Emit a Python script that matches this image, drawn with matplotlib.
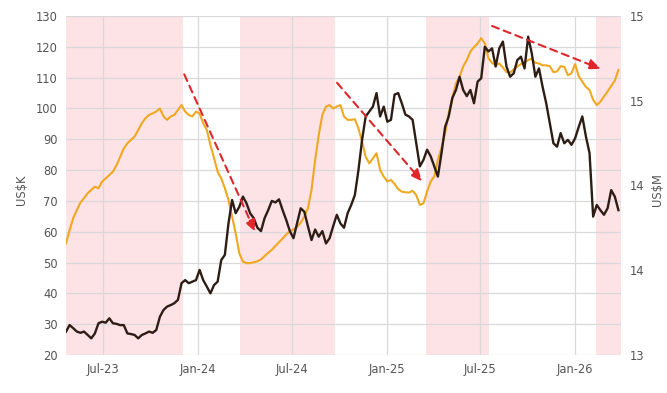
import matplotlib
matplotlib.use("Agg")
import matplotlib.pyplot as plt
import matplotlib.dates as mdates
import pandas as pd

# ---------------- data (weekly readings) ----------------
start_date = "2023-04-20"
brown_vals = [
    27.6, 29.7, 28.7, 27.6, 27.2, 27.6, 26.5, 25.4, 27.0, 30.3, 30.8, 30.5, 31.9, 30.3, 30.1, 29.7,
    29.7, 27.0, 26.8, 26.5, 25.4, 26.5, 27.0, 27.6, 27.2, 28.1, 32.4, 34.6, 35.7, 36.2, 36.8, 37.9,
    43.3, 44.3, 43.3, 43.8, 44.3, 47.6, 44.3,
    42.2, 40.0, 42.7, 43.8, 50.8, 52.5, 62.7, 70.3, 66.0, 68.1, 71.4, 69.2, 66.0, 64.4, 61.3, 60.2,
    64.4, 67.0, 70.0, 69.5, 70.5, 67.0, 63.8, 60.2, 57.9, 62.7, 67.6, 66.5, 61.8, 57.3, 60.7, 58.4,
    60.2, 56.2, 57.9, 61.8, 65.5, 62.7, 61.3,
    66.0, 68.7, 71.9, 80.0, 89.8, 97.4, 99.0, 100.6, 105.0, 97.4, 100.6, 95.7, 96.3, 104.5, 105.0,
    101.7, 98.0, 97.4, 96.3, 88.7, 81.2, 83.3, 86.6, 84.5, 81.2, 77.9, 85.5, 94.0, 97.4, 103.4, 106.0,
    110.3, 106.0, 104.0, 106.0, 101.7, 108.7, 109.8,
    120.0, 118.5, 119.5, 113.6, 119.5, 121.7, 113.6, 110.3, 111.4, 115.7, 116.8, 113.0, 123.3, 117.9,
    110.3, 113.0, 107.0, 101.7, 95.2, 88.7, 87.6, 92.0, 88.7, 89.8, 88.2, 90.3, 94.0, 97.4, 90.9, 85.5,
    64.9, 68.7, 67.0, 65.5, 67.6, 73.5, 71.4, 67.0,
]
yellow_vals = [
    56.2, 60.5, 64.4, 67.0, 69.5, 70.9, 72.5, 73.6, 74.6, 74.1, 76.3, 77.3, 78.4, 79.5, 81.6, 84.3,
    87.0, 88.7, 89.8, 90.9, 93.0, 95.2, 96.8, 97.9, 98.4, 99.0, 100.0, 97.4, 96.3, 97.4, 97.9, 99.5,
    101.1, 99.0, 97.9, 97.4, 99.0, 98.4, 95.2,
    93.0, 88.2, 83.8, 79.5, 77.3, 74.1, 70.3, 64.9, 59.5, 53.0, 50.3, 49.8, 49.8, 50.1, 50.4, 51.0,
    52.1, 53.2, 54.1, 55.4, 56.6, 57.8, 59.1, 60.2, 60.7, 61.6, 62.9, 64.9, 67.6, 73.6, 83.3, 91.4,
    97.9, 100.6, 101.1, 100.0, 100.6, 101.1, 97.4,
    96.3, 96.3, 96.5, 93.5, 89.2, 84.3, 82.2, 83.8, 85.5, 80.0, 77.9, 76.3, 76.8, 75.5, 73.8, 73.0,
    72.8, 72.7, 73.3, 71.9, 68.7, 69.2, 73.0, 76.3, 77.9, 83.3, 87.2, 92.0, 98.5, 103.4, 108.1, 110.3,
    113.6, 115.7, 118.5, 119.9, 121.1, 122.8,
    121.1, 116.3, 114.8, 114.0, 114.6, 113.3, 111.8, 111.6, 112.7, 113.6, 114.4, 115.0, 115.7, 116.1,
    114.8, 114.6, 114.0, 114.0, 113.7, 111.8, 112.0, 113.7, 113.5, 110.8, 111.4, 114.4, 110.5, 108.7,
    107.0, 106.0, 102.8, 101.1, 102.2, 103.9, 105.5, 107.3, 109.0, 112.5,
]
dates = pd.date_range(start_date, periods=len(brown_vals), freq="7D")

shade_starts = ["2023-04-01", "2024-03-23", "2025-03-18", "2026-02-11"]
shade_ends = ["2023-12-03", "2024-09-23", "2025-07-19", "2026-03-31"]

arrow_start_dates = ["2023-12-03", "2024-09-23", "2025-07-19"]
arrow_start_vals = [111.9, 109.0, 127.1]
arrow_end_dates = ["2024-04-23", "2025-03-14", "2026-02-25"]
arrow_end_vals = [59.1, 75.6, 112.5]

left_ticks = [20, 30, 40, 50, 60, 70, 80, 90, 100, 110, 120, 130]
right_ticks = [13, 13.5, 14, 14.5, 15]
right_labels = ["13", "14", "14", "15", "15"]
x_tick_dates = ["2023-07-01", "2024-01-01", "2024-07-01", "2025-01-01", "2025-07-01", "2026-01-01"]

# ---------------- figure ----------------
fig = plt.figure(figsize=(6.67, 3.93), dpi=100)
ax = fig.add_axes([66 / 667, 1 - 355 / 393, (621 - 66) / 667, (355 - 16) / 393])

xmin, xmax = pd.Timestamp("2023-04-20"), pd.Timestamp("2026-03-31")
ax.set_xlim(xmin, xmax)
ax.set_ylim(20, 130)

pink = "#fde2e6"
for s, e in zip(shade_starts, shade_ends):
    ax.axvspan(max(pd.Timestamp(s), xmin), min(pd.Timestamp(e), xmax), color=pink, lw=0, zorder=0)

ax.set_yticks(left_ticks)
ax.set_xticks([pd.Timestamp(d) for d in x_tick_dates])
ax.xaxis.set_major_formatter(mdates.DateFormatter("%b-%y"))
ax.grid(True, color="#d9d9d9", lw=0.9, zorder=1)
ax.set_axisbelow(True)
for sp in ax.spines.values():
    sp.set_visible(False)
ax.tick_params(length=0, labelsize=8.3, labelcolor="#555555", pad=6)

ax.plot(dates, yellow_vals, color="#f0a820", lw=1.5, zorder=3)
ax.plot(dates, brown_vals, color="#2e1d15", lw=1.7, zorder=4)

red = "#e0262b"
for sd, sv, ed, ev in zip(arrow_start_dates, arrow_start_vals, arrow_end_dates, arrow_end_vals):
    ax.annotate("", xy=(pd.Timestamp(ed), ev), xytext=(pd.Timestamp(sd), sv),
                arrowprops=dict(arrowstyle="-|>,head_length=0.7,head_width=0.3",
                                color=red, lw=1.5, linestyle=(0, (3.5, 2.5))),
                zorder=5)

fig.text(22 / 667, 1 - 190 / 393, "US$K", rotation=90, fontsize=8.3, color="#555555",
         va="center", ha="center")

ax2 = ax.twinx()
ax2.set_ylim(13, 15)
ax2.set_yticks(right_ticks)
ax2.set_yticklabels(right_labels)
for sp in ax2.spines.values():
    sp.set_visible(False)
ax2.tick_params(length=0, labelsize=8.3, labelcolor="#555555", pad=6)
fig.text(658 / 667, 1 - 190 / 393, "US$M", rotation=90, fontsize=8.3, color="#555555",
         va="center", ha="center")

fig.savefig("out.png", dpi=100)
